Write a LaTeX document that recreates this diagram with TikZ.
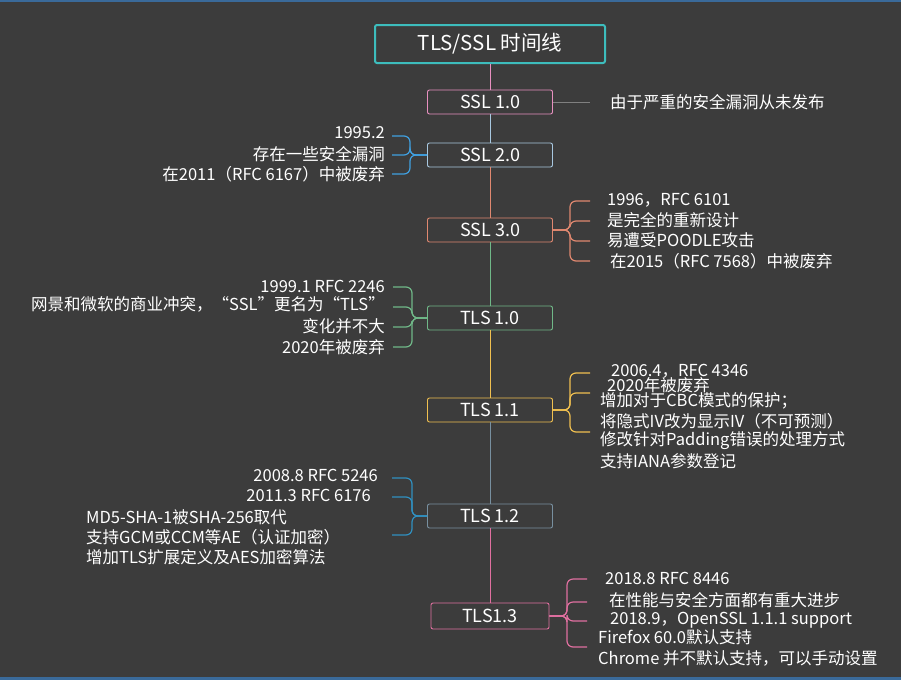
\documentclass[tikz,border=0pt]{standalone}
\usepackage{fontspec}
\setmainfont{Noto Sans CJK SC}
\definecolor{bg}{HTML}{3C3C3C}
\definecolor{cteal}{HTML}{3DBDBD}
\definecolor{cpink}{HTML}{E890C0}
\definecolor{clblue}{HTML}{A8C8E0}
\definecolor{cblue}{HTML}{40A0E0}
\definecolor{corange}{HTML}{E08870}
\definecolor{cgreen}{HTML}{70B888}
\definecolor{cyel}{HTML}{F0C050}
\definecolor{cgray}{HTML}{7890A0}
\definecolor{cblue2}{HTML}{3090C0}
\definecolor{cpink2}{HTML}{E070A0}
\definecolor{edge}{HTML}{3A6A9A}
\begin{document}
\begin{tikzpicture}[x=1pt,y=-1pt,
  ver/.style={draw,rounded corners=2pt,minimum width=125pt,minimum height=24pt,inner sep=0pt,text=white,font=\fontsize{18}{20}\selectfont,line width=0.9pt},
  txt/.style={text=white,font=\fontsize{16.5}{18}\selectfont,inner sep=0pt},
  br/.style={rounded corners=6pt,line width=1.2pt}]
\fill[bg] (0,0) rectangle (901,680);
\fill[edge] (0,0) rectangle (901,2);
\fill[edge] (0,677) rectangle (901,680);
\node[draw=cteal,line width=2pt,rounded corners=2pt,minimum width=230pt,minimum height=38pt,inner sep=0pt,text=white,font=\fontsize{20.5}{22}\selectfont] (t) at (490,44) {TLS/SSL 时间线};
\node[ver,draw=cpink] (s1) at (490,102) {SSL 1.0};
\node[ver,draw=clblue] (s2) at (490,155) {SSL 2.0};
\node[ver,draw=corange] (s3) at (490,230) {SSL 3.0};
\node[ver,draw=cgreen] (t0) at (490,318) {TLS 1.0};
\node[ver,draw=cyel] (t1) at (490,410) {TLS 1.1};
\node[ver,draw=cgray] (t2) at (490,516) {TLS 1.2};
\node[ver,draw=cpink2,minimum width=118pt,minimum height=26pt] (t3) at (490,616) {TLS1.3};
\draw[cpink,line width=1pt] (t) -- (s1);
\draw[clblue,line width=1pt] (s1) -- (s2);
\draw[corange,line width=1pt] (s2) -- (s3);
\draw[cgreen,line width=1pt] (s3) -- (t0);
\draw[cyel,line width=1pt] (t0) -- (t1);
\draw[cgray,line width=1pt] (t1) -- (t2);
\draw[cpink2,line width=1pt] (t2) -- (t3);
% SSL 1.0
\coordinate (a1) at (590,102);
\draw[gray,line width=1pt] (s1.east) -- (a1);
\node[txt,anchor=west] at (610,102) {由于严重的安全漏洞从未发布};
% SSL 2.0
\foreach \y in {136,155,174}{\draw[br,cblue] (s2.west) -- (410,155) |- (392,\y);}
\node[txt,anchor=east] at (385,133) {1995.2};
\node[txt,anchor=east] at (385,154) {存在一些安全漏洞};
\node[txt,anchor=east] at (385,174) {在2011（RFC 6167）中被废弃};
% SSL 3.0
\foreach \y in {201,221,241,261}{\draw[br,corange] (s3.east) -- (570,230) |- (590,\y);}
\node[txt,anchor=west] at (607,200) {1996，RFC 6101};
\node[txt,anchor=west] at (607,220) {是完全的重新设计};
\node[txt,anchor=west] at (607,240) {易遭受POODLE攻击};
\node[txt,anchor=west] at (610,261) {在2015（RFC 7568）中被废弃};
% TLS 1.0
\foreach \y in {287,307,327,347}{\draw[br,cgreen] (t0.west) -- (412,318) |- (393,\y);}
\node[txt,anchor=east] at (385,286) {1999.1 RFC 2246};
\node[txt,anchor=east] at (385,304) {网景和微软的商业冲突，“SSL”更名为“TLS”};
\node[txt,anchor=east] at (385,326) {变化并不大};
\node[txt,anchor=east] at (385,347) {2020年被废弃};
% TLS 1.1
\foreach \y in {373,393,432}{\draw[br,cyel] (t1.east) -- (570,410) |- (590,\y);}
\node[txt,anchor=west] at (611,371) {2006.4，RFC 4346};
\node[txt,anchor=west] at (607,385) {2020年被废弃};
\node[txt,anchor=west] at (600,401) {增加对于CBC模式的保护；};
\node[txt,anchor=west] at (600,421) {将隐式IV改为显示IV（不可预测）};
\node[txt,anchor=west] at (600,441) {修改针对Padding错误的处理方式};
\node[txt,anchor=west] at (600,461) {支持IANA参数登记};
% TLS 1.2
\foreach \y in {478,497,535}{\draw[br,cblue2] (t2.west) -- (412,516) |- (392,\y);}
\node[txt,anchor=east] at (378,475) {2008.8 RFC 5246};
\node[txt,anchor=east] at (371,495) {2011.3 RFC 6176};
\node[txt,anchor=west] at (86,517) {MD5-SHA-1被SHA-256取代};
\node[txt,anchor=west] at (86,537) {支持GCM或CCM等AE（认证加密）};
\node[txt,anchor=west] at (86,557) {增加TLS扩展定义及AES加密算法};
% TLS 1.3
\foreach \y in {579,602,621,647}{\draw[br,cpink2] (t3.east) -- (567,616) |- (587,\y);}
\node[txt,anchor=west] at (605,578) {2018.8 RFC 8446};
\node[txt,anchor=west] at (609,600) {在性能与安全方面都有重大进步};
\node[txt,anchor=west] at (610,620) {2018.9，OpenSSL 1.1.1 support};
\node[txt,anchor=west] at (598,637) {Firefox 60.0默认支持};
\node[txt,anchor=west] at (598,658) {Chrome 并不默认支持，可以手动设置};
\end{tikzpicture}
\end{document}
